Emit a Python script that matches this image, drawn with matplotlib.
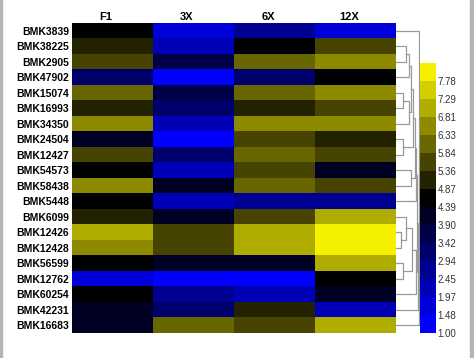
import numpy as np
import matplotlib
matplotlib.use("Agg")
import matplotlib.pyplot as plt
from matplotlib.colors import LinearSegmentedColormap, ListedColormap, BoundaryNorm
import matplotlib.colorbar as mcolorbar
from matplotlib.patches import Rectangle

plt.rcParams['font.family'] = ['Liberation Sans', 'DejaVu Sans']

# data
genes = ['BMK3839', 'BMK38225', 'BMK2905', 'BMK47902', 'BMK15074', 'BMK16993',
         'BMK34350', 'BMK24504', 'BMK12427', 'BMK54573', 'BMK58438', 'BMK5448',
         'BMK6099', 'BMK12426', 'BMK12428', 'BMK56599', 'BMK12762', 'BMK60254',
         'BMK42231', 'BMK16683']
samples = ['F1', '3X', '6X', '12X']

f1 = [4.6, 5.1, 5.6, 3.2, 6.1, 5.1, 6.6, 4.1, 5.6, 4.6,
      6.6, 4.6, 5.1, 7.05, 6.6, 4.6, 1.5, 4.6, 4.1, 4.1]
x3 = [1.9, 2.0, 3.6, 1.2, 3.6, 3.1, 2.3, 1.2, 3.4, 2.0,
      4.0, 2.0, 4.0, 5.6, 5.6, 4.1, 1.2, 2.8, 3.2, 6.1]
x6 = [2.5, 4.6, 6.1, 3.3, 6.1, 5.1, 6.6, 5.6, 6.1, 5.6,
      6.1, 2.6, 5.6, 7.1, 7.1, 4.1, 1.2, 2.0, 5.1, 5.6]
x12 = [1.5, 5.6, 6.6, 4.6, 6.6, 5.6, 6.6, 5.1, 5.6, 4.0,
       5.6, 2.6, 7.05, 8.0, 8.0, 7.05, 4.6, 4.2, 2.1, 7.05]

level_labels = ['1.00', '1.48', '1.97', '2.45', '2.94', '3.42', '3.90', '4.39',
                '4.87', '5.36', '5.84', '6.33', '6.81', '7.29', '7.78']
level_top = 8.26

# row clustering: (child a, child b, height), ids >= 20 are earlier merges
merges = [(13, 14, 2.0), (1, 2, 4.5), (4, 5, 3.0), (7, 8, 3.0), (15, 16, 3.0),
          (9, 10, 6.5), (12, 20, 4.5), (22, 6, 5.5), (21, 3, 5.5), (26, 24, 7.0),
          (28, 27, 6.5), (30, 23, 7.5), (31, 25, 8.0), (32, 11, 8.5), (29, 17, 8.5),
          (33, 34, 9.0), (35, 18, 9.4), (36, 19, 9.7), (0, 37, 10.0)]

data = np.array([f1, x3, x6, x12]).T
bounds = [float(v) for v in level_labels] + [level_top]

base = LinearSegmentedColormap.from_list('by', ['#0000ff', '#000000', '#f5f000'])
cmap = ListedColormap(base(np.linspace(0, 1, len(bounds) - 1)))
norm = BoundaryNorm(bounds, cmap.N)

fig = plt.figure(figsize=(4.74, 3.58), dpi=100)

# heatmap
ax = fig.add_axes([0.1519, 0.0698, 0.6835, 0.8659])
ax.imshow(data, cmap=cmap, norm=norm, aspect='auto', interpolation='nearest')
ax.xaxis.tick_top()
ax.set_xticks(np.arange(len(samples)) - 0.08)
ax.set_xticklabels(samples, fontsize=8, fontweight='bold')
ax.set_yticks(range(len(genes)))
ax.set_yticklabels(genes, fontsize=7.5, fontweight='bold')
ax.tick_params(axis='y', length=0, pad=2)
ax.tick_params(axis='x', length=0, pad=0.5)
for s in ax.spines.values():
    s.set_visible(False)

# dendrogram
dax = fig.add_axes([0.8354, 0.0698, 0.0506, 0.8659])
nodes = {i: (float(i), 0.0) for i in range(len(genes))}
nid = len(genes)
for a, b, h in merges:
    ya, ha = nodes[a]
    yb, hb = nodes[b]
    dax.plot([ha, h, h, hb], [ya, ya, yb, yb], color='#999999', lw=0.9)
    nodes[nid] = ((ya + yb) / 2, h)
    nid += 1
dax.set_ylim(len(genes) - 0.5, -0.5)
dax.set_xlim(0, 10.3)
dax.axis('off')

# colour key
cax = fig.add_axes([0.8861, 0.0698, 0.0338, 0.7542])
cb = mcolorbar.ColorbarBase(cax, cmap=cmap, norm=norm, boundaries=bounds,
                            spacing='uniform')
cb.set_ticks(bounds[:-1], labels=level_labels)
cax.minorticks_off()
cb.outline.set_visible(False)
cax.tick_params(length=0, pad=1, labelsize=7, labelcolor='#333333')

# grey frame strips
fig.patches.append(Rectangle((0, 0), 0.005, 1, transform=fig.transFigure,
                             color='#b4b4b4', zorder=0))
fig.patches.append(Rectangle((0.991, 0), 0.009, 1, transform=fig.transFigure,
                             color='#b4b4b4', zorder=0))

fig.savefig('out.png', dpi=100)
